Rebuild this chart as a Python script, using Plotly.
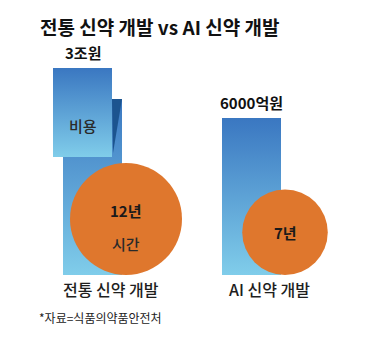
import math
import plotly.graph_objects as go

# ---------------- data ----------------
title = "전통 신약 개발 vs AI 신약 개발"
categories = ["전통 신약 개발", "AI 신약 개발"]
cost_eok = [30000, 6000]              # 개발 비용 (억원)
cost_labels = ["3조원", "6000억원"]
years = [12, 7]                       # 개발 기간 (년)
year_labels = ["12년", "7년"]
cost_tag = "비용"
time_tag = "시간"
source = "*자료=식품의약품안전처"

# ---------------- layout helpers ----------------
W, H = 372, 362
PX_PER_UNIT_X = 159.0          # pixels between category centres
X0_PX = 92.5                   # pixel position of first category
Y_TOP_LOG = 5.428              # log10 value at top edge
PX_PER_DEC = 71.53             # pixels per decade on the (log) cost axis
BASE = 38.3                    # bar base (억원) on log axis

x_range = [-X0_PX / PX_PER_UNIT_X, (W - X0_PX) / PX_PER_UNIT_X]
y_range = [Y_TOP_LOG - H / PX_PER_DEC, Y_TOP_LOG]


def dx(px):
    return px / PX_PER_UNIT_X


def ly(v, px_down=0.0):
    return 10 ** (math.log10(v) - px_down / PX_PER_DEC)


HW = dx(29.5)                  # bar half width
DARK = "#3a77c1"
LIGHT = "#80cdea"
grad = dict(type="vertical", colorscale=[[0, LIGHT], [1, DARK]])
ORANGE = "#df772d"
FONT = "Noto Sans CJK KR"

fig = go.Figure()

# bars (with the first bar's lifted "비용" card)
for i, v in enumerate(cost_eok):
    top = ly(v, 31) if i == 0 else v
    fig.add_trace(go.Scatter(
        x=[i - HW, i + HW, i + HW, i - HW, i - HW],
        y=[BASE, BASE, top, top, BASE],
        mode="lines", line=dict(width=0), fill="toself",
        fillgradient=grad, hoverinfo="skip", showlegend=False))
    if i == 0:
        # dark fold triangle
        fig.add_trace(go.Scatter(
            x=[i + HW - dx(10), i + HW, i + HW - dx(9), i + HW - dx(10)],
            y=[top, top, ly(v, 85), top],
            mode="lines", line=dict(width=0), fill="toself",
            fillcolor="#1c548f", hoverinfo="skip", showlegend=False))
        # card
        sx = dx(10)
        fig.add_trace(go.Scatter(
            x=[i - HW - sx, i + HW - sx, i + HW - sx, i - HW - sx, i - HW - sx],
            y=[ly(v, 89), ly(v, 89), v, v, ly(v, 89)],
            mode="lines", line=dict(width=0), fill="toself",
            fillgradient=grad, hoverinfo="skip", showlegend=False))

# circles (area proportional to years)
D_MAX = 112.0
sizeref = 2.0 * max(years) / D_MAX ** 2
radii = [math.sqrt(y / (2.0 * sizeref)) for y in years]
cx = [i + HW + dx(4) for i in range(len(years))]
cy = [10 ** (math.log10(BASE) + r / PX_PER_DEC) for r in radii]
fig.add_trace(go.Scatter(
    x=cx, y=cy, mode="markers",
    marker=dict(size=years, sizemode="area", sizeref=sizeref,
                color=ORANGE, line=dict(width=0), opacity=1),
    hoverinfo="skip", showlegend=False))

ann = []
# title
ann.append(dict(text=f"<b>{title}</b>", xref="paper", yref="paper",
                x=159 / W, y=1 - 26 / H, xanchor="center", yanchor="middle",
                showarrow=False, font=dict(family=FONT, size=19, color="#111111")))
# cost labels
for i, (v, lab) in enumerate(zip(cost_eok, cost_labels)):
    shift = dx(10) if i == 0 else 0
    ann.append(dict(text=f"<b>{lab}</b>", xref="x", yref="y",
                    x=i - shift, y=math.log10(v), xanchor="center",
                    yanchor="bottom", yshift=3, showarrow=False,
                    font=dict(family=FONT, size=15, color="#111111")))
# "비용" tag on card
ann.append(dict(text=cost_tag, xref="x", yref="y", x=0 - dx(10),
                y=math.log10(cost_eok[0]), yshift=-57, xanchor="center",
                yanchor="middle", showarrow=False,
                font=dict(family=FONT, size=15, color="#2a2a2a", weight=500)))
# year labels
for i, lab in enumerate(year_labels):
    ys = 9 if i == 0 else 0
    ann.append(dict(text=f"<b>{lab}</b>", xref="x", yref="y", x=cx[i],
                    y=math.log10(cy[i]), yshift=ys, xanchor="center",
                    yanchor="middle", showarrow=False,
                    font=dict(family=FONT, size=15, color="#1a1a1a")))
ann.append(dict(text=time_tag, xref="x", yref="y", x=cx[0],
                y=math.log10(cy[0]), yshift=-24, xanchor="center",
                yanchor="middle", showarrow=False,
                font=dict(family=FONT, size=15, color="#2a2a2a", weight=500)))
# category labels
for i, c in enumerate(categories):
    ann.append(dict(text=c, xref="x", yref="paper", x=i, xshift=18,
                    y=1 - 289 / H, xanchor="center", yanchor="middle",
                    showarrow=False,
                    font=dict(family=FONT, size=16, color="#1e1e1e", weight=500)))
# source
ann.append(dict(text=source, xref="paper", yref="paper", x=37 / W,
                y=1 - 317 / H, xanchor="left", yanchor="middle",
                showarrow=False, font=dict(family=FONT, size=12, color="#222222")))

fig.update_layout(
    width=W, height=H, margin=dict(l=0, r=0, t=0, b=0),
    paper_bgcolor="white", plot_bgcolor="white",
    xaxis=dict(range=x_range, visible=False, fixedrange=True),
    yaxis=dict(type="log", range=y_range, visible=False, fixedrange=True),
    annotations=ann, showlegend=False)

fig.write_html("out.html", config={"displayModeBar": False},
               post_script="document.body.style.margin='0';")
